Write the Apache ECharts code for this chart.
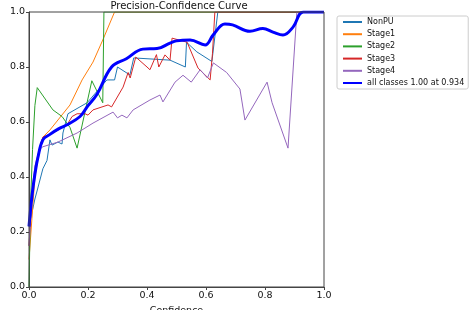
<!DOCTYPE html>
<html>
<head>
<meta charset="utf-8">
<script src="https://cdn.jsdelivr.net/npm/echarts@6/dist/echarts.min.js"></script>
<style>
  html, body { margin: 0; padding: 0; background: #fff; }
  #chart { width: 474px; height: 310px; }
</style>
</head>
<body>
<div id="chart"></div>
<script>
// [confidence, precision] pairs
const nonPU = [[0,0.22],[0.01,0.27],[0.02,0.32],[0.03,0.36],[0.047,0.43],[0.061,0.46],[0.071,0.535],[0.078,0.516],[0.098,0.527],[0.112,0.52],[0.115,0.56],[0.132,0.63],[0.197,0.67],[0.264,0.753],[0.29,0.753],[0.30,0.80],[0.342,0.771],[0.355,0.833],[0.478,0.825],[0.53,0.80],[0.534,0.89],[0.569,0.855],[0.62,0.82],[0.64,1.0],[1,1]];
const stage1 = [[0,0.1],[0.01,0.25],[0.02,0.4],[0.035,0.5],[0.047,0.545],[0.071,0.571],[0.139,0.662],[0.18,0.753],[0.217,0.818],[0.25,0.898],[0.29,1.0],[1,1]];
const stage2 = [[0,0],[0.005,0.3],[0.012,0.5],[0.02,0.66],[0.028,0.725],[0.081,0.644],[0.112,0.62],[0.139,0.58],[0.163,0.505],[0.213,0.75],[0.25,0.67],[0.254,1.0],[1,1]];
const stage3 = [[0,0.15],[0.01,0.33],[0.02,0.42],[0.035,0.5],[0.047,0.545],[0.081,0.56],[0.129,0.59],[0.146,0.62],[0.163,0.63],[0.19,0.63],[0.2,0.625],[0.217,0.644],[0.268,0.662],[0.28,0.655],[0.319,0.727],[0.336,0.78],[0.343,0.76],[0.362,0.836],[0.40,0.80],[0.41,0.79],[0.432,0.845],[0.44,0.80],[0.461,0.844],[0.478,0.825],[0.485,0.905],[0.536,0.89],[0.573,0.796],[0.614,0.753],[0.622,0.85],[0.63,1.0],[1,1]];
const stage4 = [[0,0.15],[0.01,0.35],[0.02,0.44],[0.035,0.5],[0.047,0.51],[0.098,0.527],[0.163,0.56],[0.217,0.596],[0.285,0.636],[0.30,0.615],[0.315,0.625],[0.332,0.615],[0.353,0.644],[0.41,0.68],[0.444,0.698],[0.454,0.673],[0.495,0.745],[0.522,0.77],[0.55,0.745],[0.58,0.79],[0.605,0.76],[0.625,0.815],[0.67,0.78],[0.715,0.72],[0.732,0.607],[0.807,0.745],[0.824,0.67],[0.878,0.505],[0.908,1.0],[1,1]];
const allClasses = [[0,0.22],[0.01,0.33],[0.02,0.41],[0.03,0.47],[0.047,0.535],[0.071,0.555],[0.1,0.575],[0.129,0.59],[0.173,0.62],[0.197,0.655],[0.23,0.70],[0.28,0.80],[0.33,0.83],[0.386,0.865],[0.434,0.867],[0.478,0.887],[0.50,0.895],[0.546,0.898],[0.597,0.88],[0.624,0.916],[0.664,0.956],[0.69,0.953],[0.749,0.93],[0.793,0.94],[0.827,0.927],[0.861,0.916],[0.895,0.945],[0.93,1.0],[1,1]];

const axisColor = '#444';
const font = 'DejaVu Sans';

const thin = (name, data, color) => ({
  name: name,
  type: 'line',
  data: data,
  symbol: 'none',
  clip: true,
  lineStyle: { color: color, width: 1 },
  itemStyle: { color: color },
});

const option = {
  animation: false,
  textStyle: { fontFamily: font },
  title: {
    text: 'Precision-Confidence Curve',
    left: 174,
    top: -4,
    textAlign: 'center',
    textStyle: { fontSize: 10, fontWeight: 'normal', color: '#111', fontFamily: font },
  },
  legend: {
    orient: 'vertical',
    left: 337,
    top: 16,
    padding: [2, 4, 2, 5],
    itemGap: 4.2,
    itemWidth: 19,
    itemHeight: 8,
    borderColor: '#ccc',
    borderWidth: 1,
    borderRadius: 2,
    itemStyle: { opacity: 0 },
    textStyle: { fontSize: 8, color: '#111', fontFamily: font },
    data: ['NonPU', 'Stage1', 'Stage2', 'Stage3', 'Stage4', 'all classes 1.00 at 0.934'],
  },
  grid: { left: 29, right: 150, top: 12, bottom: 23, outerBoundsMode: 'none', containLabel: false },
  xAxis: {
    type: 'value',
    min: 0,
    max: 1,
    interval: 0.2,
    name: 'Confidence',
    nameLocation: 'middle',
    nameGap: 15,
    nameTextStyle: { fontSize: 9.5, color: '#111' },
    axisLine: { show: true, lineStyle: { color: axisColor } },
    axisTick: { show: true, length: 3, lineStyle: { color: axisColor } },
    axisLabel: { fontSize: 9.5, color: '#111', margin: 4, formatter: v => v.toFixed(1) },
    splitLine: { show: false },
  },
  yAxis: {
    type: 'value',
    min: 0,
    max: 1,
    interval: 0.2,
    name: 'Precision',
    nameLocation: 'middle',
    nameGap: 22,
    nameTextStyle: { fontSize: 9.5, color: '#111' },
    axisLine: { show: true, lineStyle: { color: axisColor } },
    axisTick: { show: true, length: 3, lineStyle: { color: axisColor } },
    axisLabel: { fontSize: 9.5, color: '#111', margin: 4, formatter: v => v.toFixed(1) },
    splitLine: { show: false },
  },
  // right/top spines
  graphic: [{
    type: 'rect',
    shape: { x: 29, y: 12, width: 295, height: 275 },
    style: { fill: 'none', stroke: axisColor, lineWidth: 1 },
    silent: true,
    z: 100,
  }],
  series: [
    thin('NonPU', nonPU, '#1f77b4'),
    thin('Stage1', stage1, '#ff7f0e'),
    thin('Stage2', stage2, '#2ca02c'),
    thin('Stage3', stage3, '#d62728'),
    thin('Stage4', stage4, '#9467bd'),
    {
      name: 'all classes 1.00 at 0.934',
      type: 'line',
      data: allClasses,
      symbol: 'none',
      smooth: 0.4,
      clip: true,
      lineStyle: { color: '#0000ff', width: 3 },
      itemStyle: { color: '#0000ff' },
      z: 5,
    },
  ],
};

const myChart = echarts.init(document.getElementById('chart'));
myChart.setOption(option);
</script>
</body>
</html>
